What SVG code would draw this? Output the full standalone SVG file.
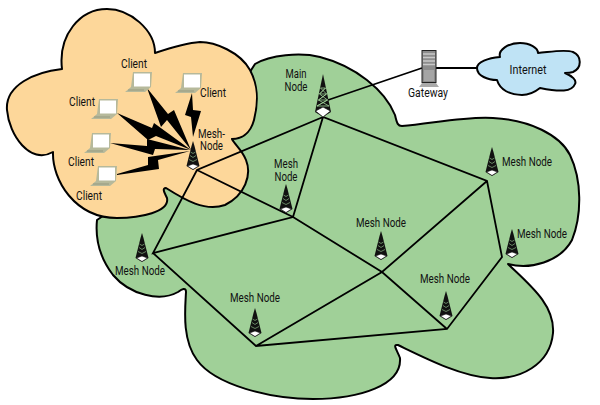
<svg xmlns="http://www.w3.org/2000/svg" width="600" height="405" viewBox="0 0 600 405">
<style>
text{font-family:"Roboto","Liberation Sans",sans-serif;font-size:13px;fill:#111;font-weight:400}
.m{text-anchor:middle}
.cloud{stroke:#000;stroke-width:2;stroke-linejoin:round}
.link{fill:none;stroke:#000;stroke-width:1.8;stroke-linejoin:miter}
.bolt{fill:#000}
</style>
<defs>
<g id="tower">
<path d="M0 0L1.500 5L6.500 25L0 29L-6.500 25L-1.500 5Z" fill="#111"/>
<path d="M-5.500 25L0 28.500L5.500 25L0 23Z" fill="#fff" stroke="#111" stroke-width=".6"/>
<path d="M-2.500 11L0 12.500L2.500 11M-3 14.500L0 16.500L3 14.500M-4 18.500L0 20.500L4 18.500" fill="none" stroke="#a0d098" stroke-width=".6"/>
</g>
<g id="towerBig">
<path d="M0 0L8 38L0 43L-8 38Z" fill="#111"/>
<path d="M-7.500 37L0 43L7.500 37L0 33Z" fill="#fff" stroke="#111" stroke-width=".7"/>
<path d="M-2.500 14L2.500 14L-3.500 20L3.500 20L-4.500 26L4.500 26L-6 32L6 32M-2.500 14L3.500 20L-4.500 26L6 32M2.500 14L-3.500 20L4.500 26L-6 32" fill="none" stroke="#a0d098" stroke-width=".8"/>
</g>
<g id="laptop">
<path d="M0 0H19L18 15L12 20H-8L-2 15Z" fill="#b6b99b"/>
<rect x="1" y="1.500" width="16" height="13" fill="#fff"/>
<path d="M-5 18H11" stroke="#8b8d72" stroke-width=".7"/>
</g>
</defs>
<g id="mesh-cloud"><path class="cloud" fill="#a0d098" d="M402 126C430 124 465 116 493 118C530 120 560 135 570 155C582 180 582 215 572 240C560 262 530 270 508 264C530 285 555 305 553 333C550 365 520 380 490 378C460 376 425 358 398 345C392 344 397 350 400 358C402 385 360 399 313 399C270 399 215 385 197 360C182 340 185 310 186 292C186 287 182 289 178 292C160 302 130 295 113 275C100 258 95 240 97 220L200 150L255 64C270 55 300 52 320 57C355 66 385 90 395 115C397 124 398 126 402 126Z"/></g>
<g id="client-cloud"><path class="cloud" fill="#fdd79a" d="M155 53C155 30 130 9 107 9C80 9 58 35 62 69C35 72 5 85 7 110C9 135 30 165 53 152C52 180 75 218 117 218C140 218 170 212 167 198C164 192 162 188 166 188C185 200 205 212 225 205C245 195 252 175 246 160C242 150 235 145 232 139C240 139 250 135 254 120C259 100 258 85 250 70C240 52 215 42 200 42C185 43 170 48 155 53Z"/></g>
<g id="connectors">
<path class="link" d="M323 117L197 170L153 253L293 217L323 117L487 181L502 257L447 329L256 346L153 253M197 170L293 217L382 272L447 329M487 181L382 272L256 346M328 100L422 68M436 68H477"/>
</g>
<g id="bolts">
<path class="bolt" d="M147 88L168 114L174 110L191 150L167 120L161 127Z"/>
<path class="bolt" d="M192 93L193 110L201 111L193 137L191 117L185 115Z"/>
<path class="bolt" d="M117 113L152 128L154 123L191 150L156 136L148 140Z"/>
<path class="bolt" d="M110 143L147 146L147 139L190 150L155 149L153 155Z"/>
<path class="bolt" d="M117 174L148 165L148 157L190 151L158 160L159 169L117 175Z"/>
</g>
<g id="client-1"><use href="#laptop" x="133" y="72"/><text class="m" x="134" y="68" textLength="26" lengthAdjust="spacingAndGlyphs">Client</text></g>
<g id="client-2"><use href="#laptop" x="99" y="99"/><text class="m" x="82" y="106" textLength="26" lengthAdjust="spacingAndGlyphs">Client</text></g>
<g id="client-3"><use href="#laptop" x="183" y="73"/><text class="m" x="213" y="97" textLength="26" lengthAdjust="spacingAndGlyphs">Client</text></g>
<g id="client-4"><use href="#laptop" x="92" y="133"/><text class="m" x="81" y="166" textLength="26" lengthAdjust="spacingAndGlyphs">Client</text></g>
<g id="client-5"><use href="#laptop" x="98" y="166"/><text class="m" x="89" y="200" textLength="26" lengthAdjust="spacingAndGlyphs">Client</text></g>
<g id="hub-node"><use href="#tower" x="193" y="141"/><text x="198" y="138" textLength="27" lengthAdjust="spacingAndGlyphs">Mesh-</text><text x="200" y="150" textLength="23" lengthAdjust="spacingAndGlyphs">Node</text></g>
<g id="main-node"><use href="#towerBig" x="323" y="74"/><text class="m" x="296" y="78" textLength="21" lengthAdjust="spacingAndGlyphs">Main</text><text class="m" x="296" y="91" textLength="23" lengthAdjust="spacingAndGlyphs">Node</text></g>
<g id="node-a"><use href="#tower" x="286" y="184"/><text class="m" x="286" y="168" textLength="24" lengthAdjust="spacingAndGlyphs">Mesh</text><text class="m" x="286" y="181" textLength="23" lengthAdjust="spacingAndGlyphs">Node</text></g>
<g id="node-b"><use href="#tower" x="142" y="233"/><text class="m" x="140" y="275" textLength="50" lengthAdjust="spacingAndGlyphs">Mesh Node</text></g>
<g id="node-c"><use href="#tower" x="255" y="308"/><text class="m" x="255" y="302" textLength="50" lengthAdjust="spacingAndGlyphs">Mesh Node</text></g>
<g id="node-d"><use href="#tower" x="381" y="231"/><text class="m" x="381" y="227" textLength="50" lengthAdjust="spacingAndGlyphs">Mesh Node</text></g>
<g id="node-e"><use href="#tower" x="492" y="147"/><text x="502" y="166" textLength="50" lengthAdjust="spacingAndGlyphs">Mesh Node</text></g>
<g id="node-f"><use href="#tower" x="512" y="229"/><text x="517" y="238" textLength="50" lengthAdjust="spacingAndGlyphs">Mesh Node</text></g>
<g id="node-g"><use href="#tower" x="446" y="291"/><text class="m" x="445" y="283" textLength="50" lengthAdjust="spacingAndGlyphs">Mesh Node</text></g>
<g id="gateway">
<path d="M419 87L422 83H436L439 87Z" fill="#aaa"/>
<rect x="422" y="50.500" width="14" height="32" fill="#8c8c8c" stroke="#222" stroke-width="1"/>
<path d="M423 54H435M423 57.500H435M423 61H435M423 64.500H435" stroke="#c8c8c8" stroke-width="1.500"/>
<path d="M425 70V81M427 70V81M429 70V81M431 70V81M433 70V81" stroke="#ccc" stroke-width=".8"/>
<text class="m" x="428" y="97" textLength="40" lengthAdjust="spacingAndGlyphs">Gateway</text>
</g>
<g id="internet">
<path class="cloud" fill="#bfe3f5" d="M477 68C477 62 488 58 500 57C498 50 508 43 520 43C530 43 538 48 538 53C550 52 565 49 573 52C582 56 582 68 573 72C570 73 567 73 565 73C572 76 577 80 575 84C572 92 560 92 540 88C535 92 530 95 522 95C510 95 500 90 497 80C488 80 477 76 477 68Z"/>
<text class="m" x="528" y="74" textLength="37" lengthAdjust="spacingAndGlyphs">Internet</text>
</g>
</svg>
